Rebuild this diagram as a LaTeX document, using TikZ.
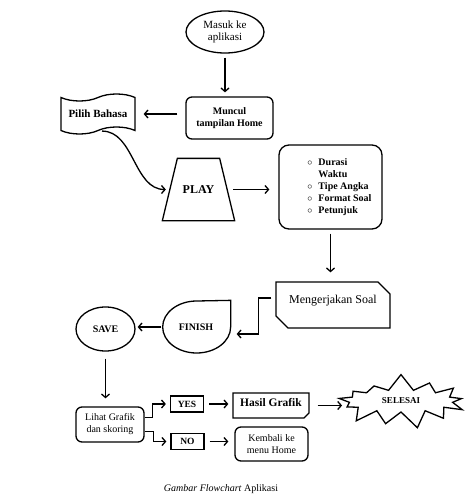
\documentclass[tikz,border=0pt]{standalone}
\usepackage{fontspec}
\setmainfont{Liberation Serif}
\usetikzlibrary{arrows.meta}
\usetikzlibrary{shapes.geometric}
\usetikzlibrary{shapes.symbols}
\usetikzlibrary{shapes.misc}
\usetikzlibrary{positioning}
\usetikzlibrary{calc}

\begin{document}
\begin{tikzpicture}[x=1pt,y=1pt,line width=1.3pt,
    >={Straight Barb[length=3.5pt,width=8pt]},
    term/.style={ellipse,draw,align=center,inner sep=0pt},
    rbox/.style={draw,rounded corners=6pt,align=center,inner sep=0pt},
    tapebox/.style={tape,draw,inner sep=0pt,tape bend height=7pt},
    snip/.style={chamfered rectangle,draw,inner sep=0pt},
    tag/.style={draw,inner sep=0pt,minimum width=33pt,minimum height=16pt,font=\fontsize{9.5}{11}\selectfont\bfseries},
    burst/.style={starburst,draw,starburst points=13,random starburst=7},
    arr/.style={->,shorten <=4pt,shorten >=4pt},
  ]
  \useasboundingbox (0,0) rectangle (473,-495);

  \node[term,minimum width=78pt,minimum height=42pt,font=\fontsize{11}{12}\selectfont] (masuk) at (225,-32) {Masuk ke\\aplikasi};
  \node[rbox,minimum width=87pt,minimum height=42pt,font=\bfseries] (home) at (229.5,-118) {Muncul\\tampilan Home};
  \node[tapebox,minimum width=74pt,minimum height=40pt,font=\fontsize{11}{13}\selectfont\bfseries] (bahasa) at (98,-114) {Pilih Bahasa};

  \node[minimum width=71pt,minimum height=61pt,inner sep=0pt,font=\fontsize{12}{14}\selectfont\bfseries] (play) at (198.5,-189.5) {PLAY};
  \draw ([xshift=15pt]play.north west) -- ([xshift=-15pt]play.north east) -- (play.south east) -- (play.south west) -- cycle;
  \coordinate (playin) at ([xshift=7.5pt]play.west);
  \coordinate (playout) at ([xshift=-7.5pt]play.east);

  \node[rbox,rounded corners=10pt,minimum width=103pt,minimum height=84pt,font=\bfseries] (opsi) at (330.5,-187)
    {\begin{tabular}{@{\hspace{18pt}}l@{\hspace{6pt}}l@{}}$\circ$&Durasi\\&Waktu\\$\circ$&Tipe Angka\\$\circ$&Format Soal\\$\circ$&Petunjuk\end{tabular}};
  \node[snip,minimum width=114pt,minimum height=46pt,chamfered rectangle corners={north east,south west},
        chamfered rectangle xsep=6pt,chamfered rectangle ysep=6pt,text depth=12pt,
        font=\fontsize{12}{14}\selectfont] (soal) at (333,-305) {Mengerjakan Soal};

  \node[minimum width=68pt,minimum height=52pt,inner sep=0pt,font=\bfseries] (finish) at (196,-327) {FINISH};
  \draw (finish.north east) -- (finish.east) arc[start angle=0,end angle=-270,x radius=34pt,y radius=26pt] -- cycle;
  \node[term,minimum width=59pt,minimum height=44pt,font=\bfseries] (save) at (105.5,-329) {SAVE};

  \node[rbox,minimum width=68pt,minimum height=35pt] (lihat) at (110,-424.5) {Lihat Grafik\\dan skoring};
  \node[tag] (yes) at (187,-404) {YES};
  \node[tag] (no) at (187.5,-441.5) {NO};
  \node[snip,chamfered rectangle corners=south east,chamfered rectangle xsep=2.5pt,chamfered rectangle ysep=2.5pt,
        minimum width=76pt,minimum height=25pt,text depth=6pt,font=\fontsize{11.5}{13}\selectfont\bfseries] (hasil) at (271,-405.5) {Hasil Grafik};
  \node[rbox,minimum width=73pt,minimum height=34pt] (kembali) at (271.5,-444) {Kembali ke\\menu Home};
  \node[burst,minimum width=138pt,minimum height=56pt,starburst point height=17pt,font=\fontsize{9}{11}\selectfont\bfseries] (selesai) at (401,-401) {SELESAI};

  \node (caption) at (221,-489) {\textit{Gambar Flowchart} Aplikasi};

  \draw[arr] (masuk.south) -- (masuk.south |- home.north);
  \draw[arr,shorten <=8pt,shorten >=8pt] (home.west |- bahasa) -- (bahasa.east);
  \draw[arr,shorten >=4pt] (bahasa.south) to[out=0,in=180] (playin);
  \draw[arr,shorten <=6pt,shorten >=9pt] (playout) -- (opsi.west |- playout);
  \draw[arr,shorten >=9pt] (opsi.south) -- (opsi.south |- soal.north);
  \draw[arr,shorten >=6pt] ([yshift=7pt]soal.west) -- ++(-17,0) |- ([yshift=-7pt]finish.east);
  \draw[arr,shorten <=0pt,shorten >=2pt] (finish.west) -- (save.east |- finish.west);
  \draw[arr,shorten <=7pt,shorten >=8pt] (save.south) -- (save.south |- lihat.north);
  \draw[arr,shorten <=0pt] ([yshift=7pt]lihat.east) -- ++(8,0) |- (yes.west);
  \draw[arr,shorten <=0pt] ([yshift=-7pt]lihat.east) -- ++(9,0) |- (no.west);
  \draw[arr,shorten <=5pt] (yes.east) -- (yes.east -| hasil.west);
  \draw[arr,shorten <=8pt,shorten >=2pt] (hasil.east) -- (hasil.east -| selesai.west);
  \draw[arr,shorten <=5pt,shorten >=6pt] (no.east) -- (no.east -| kembali.west);
\end{tikzpicture}
\end{document}
